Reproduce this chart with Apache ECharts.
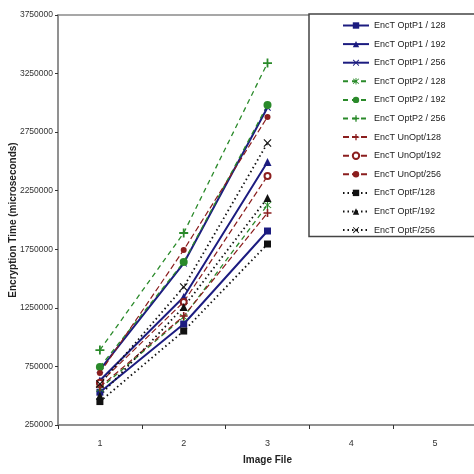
<!DOCTYPE html>
<html>
<head>
<meta charset="utf-8">
<script src="https://cdn.jsdelivr.net/npm/echarts@6/dist/echarts.min.js"></script>
<style>
  html, body { margin: 0; padding: 0; background: #fff; }
  #main { width: 474px; height: 474px; }
</style>
</head>
<body>
<div id="main"></div>
<script>
// categories and tick labels
const imageFiles = ['1', '2', '3', '4', '5'];
const yTicks = [250000, 750000, 1250000, 1750000, 2250000, 2750000, 3250000, 3750000];

// series values (microseconds)
const optP1_128 = [530000, 1112000, 1906000];
const optP1_192 = [630000, 1343000, 2495000];
const optP1_256 = [720000, 1630000, 2960000];
const optP2_128 = [560000, 1172000, 2128000];
const optP2_192 = [745000, 1641000, 2982000];
const optP2_256 = [890000, 1889000, 3340000];
const unOpt_128 = [575000, 1180000, 2060000];
const unOpt_192 = [610000, 1300000, 2376000];
const unOpt_256 = [694000, 1744000, 2880000];
const optF_128 = [450000, 1052000, 1795000];
const optF_192 = [500000, 1257000, 2188000];
const optF_256 = [600000, 1428000, 2657000];

// marker shapes
const plusPath = 'path://M4,0H6V4H10V6H6V10H4V6H0V4H4Z';
const crossPath = 'path://M1,0L5,4L9,0L10,1L6,5L10,9L9,10L5,6L1,10L0,9L4,5L0,1Z';
const starPath = 'path://M4.4,0H5.6V10H4.4Z M0.8,1.6L1.6,0.8L9.2,8.4L8.4,9.2Z M8.4,0.8L9.2,1.6L1.6,9.2L0.8,8.4Z';

const NAVY = '#1c1c80';
const GREEN = '#2a8a2a';
const RED = '#8b1e1e';
const BLACK = '#111';

function line(name, data, color, type, width, symbol, size) {
    return {
        name: name,
        type: 'line',
        data: data,
        symbol: symbol,
        symbolSize: size,
        showAllSymbol: true,
        itemStyle: { color: color },
        lineStyle: { color: color, type: type, width: width },
        emphasis: { disabled: true }
    };
}

const chart = echarts.init(document.getElementById('main'));
chart.setOption({
    animation: false,
    textStyle: { fontFamily: 'Liberation Sans, Arial, sans-serif' },
    grid: {
        left: 58, top: 15, width: 419, height: 410,
        containLabel: false,
        outerBoundsMode: 'none',
        show: true, borderColor: '#8a8a8a', borderWidth: 1.5
    },
    xAxis: {
        type: 'category',
        data: imageFiles,
        boundaryGap: true,
        name: 'Image File',
        nameLocation: 'middle',
        nameGap: 30,
        nameMoveOverlap: false,
        nameTextStyle: { fontSize: 10, fontWeight: 'bold', color: '#222' },
        axisLine: { lineStyle: { color: '#8a8a8a', width: 1.5 } },
        axisTick: { show: true, length: 4, lineStyle: { color: '#333' } },
        axisLabel: { fontSize: 9, color: '#333', margin: 14 },
        splitLine: { show: false }
    },
    yAxis: {
        type: 'value',
        min: yTicks[0],
        max: yTicks[yTicks.length - 1],
        interval: 500000,
        name: 'Encryption Time (microseconds)',
        nameLocation: 'middle',
        nameGap: 40,
        nameMoveOverlap: false,
        nameTextStyle: { fontSize: 10, fontWeight: 'bold', color: '#222' },
        axisLine: { show: true, lineStyle: { color: '#8a8a8a', width: 1.5 } },
        axisTick: { show: true, length: 3, lineStyle: { color: '#333' } },
        axisLabel: { fontSize: 8.5, color: '#333', margin: 5, formatter: v => String(v) },
        splitLine: { show: false }
    },
    legend: {
        orient: 'vertical',
        left: 309,
        top: 14,
        padding: [7, 30, 2, 33],
        itemWidth: 26,
        itemHeight: 8,
        itemGap: 9.6,
        borderColor: '#444',
        borderWidth: 1.5,
        backgroundColor: '#fff',
        textStyle: { fontSize: 9, color: '#222' }
    },
    series: [
        line('EncT OptP1 / 128', optP1_128, NAVY, 'solid', 2, 'rect', 7),
        line('EncT OptP1 / 192', optP1_192, NAVY, 'solid', 2, 'triangle', 8),
        line('EncT OptP1 / 256', optP1_256, NAVY, 'solid', 2, crossPath, 7),
        line('EncT OptP2 / 128', optP2_128, GREEN, [5, 4], 1.3, starPath, 8),
        line('EncT OptP2 / 192', optP2_192, GREEN, [5, 4], 1.3, 'circle', 8),
        line('EncT OptP2 / 256', optP2_256, GREEN, [5, 4], 1.3, plusPath, 9),
        line('EncT UnOpt/128', unOpt_128, RED, [6, 3], 1.2, plusPath, 8),
        line('EncT UnOpt/192', unOpt_192, RED, [6, 3], 1.2, 'emptyCircle', 6),
        line('EncT UnOpt/256', unOpt_256, RED, [6, 3], 1.2, 'circle', 6),
        line('EncT OptF/128', optF_128, BLACK, [1.5, 3], 1.8, 'rect', 7),
        line('EncT OptF/192', optF_192, BLACK, [1.5, 3], 1.8, 'triangle', 8),
        line('EncT OptF/256', optF_256, BLACK, [1.5, 3], 1.8, crossPath, 8)
    ]
});
</script>
</body>
</html>
